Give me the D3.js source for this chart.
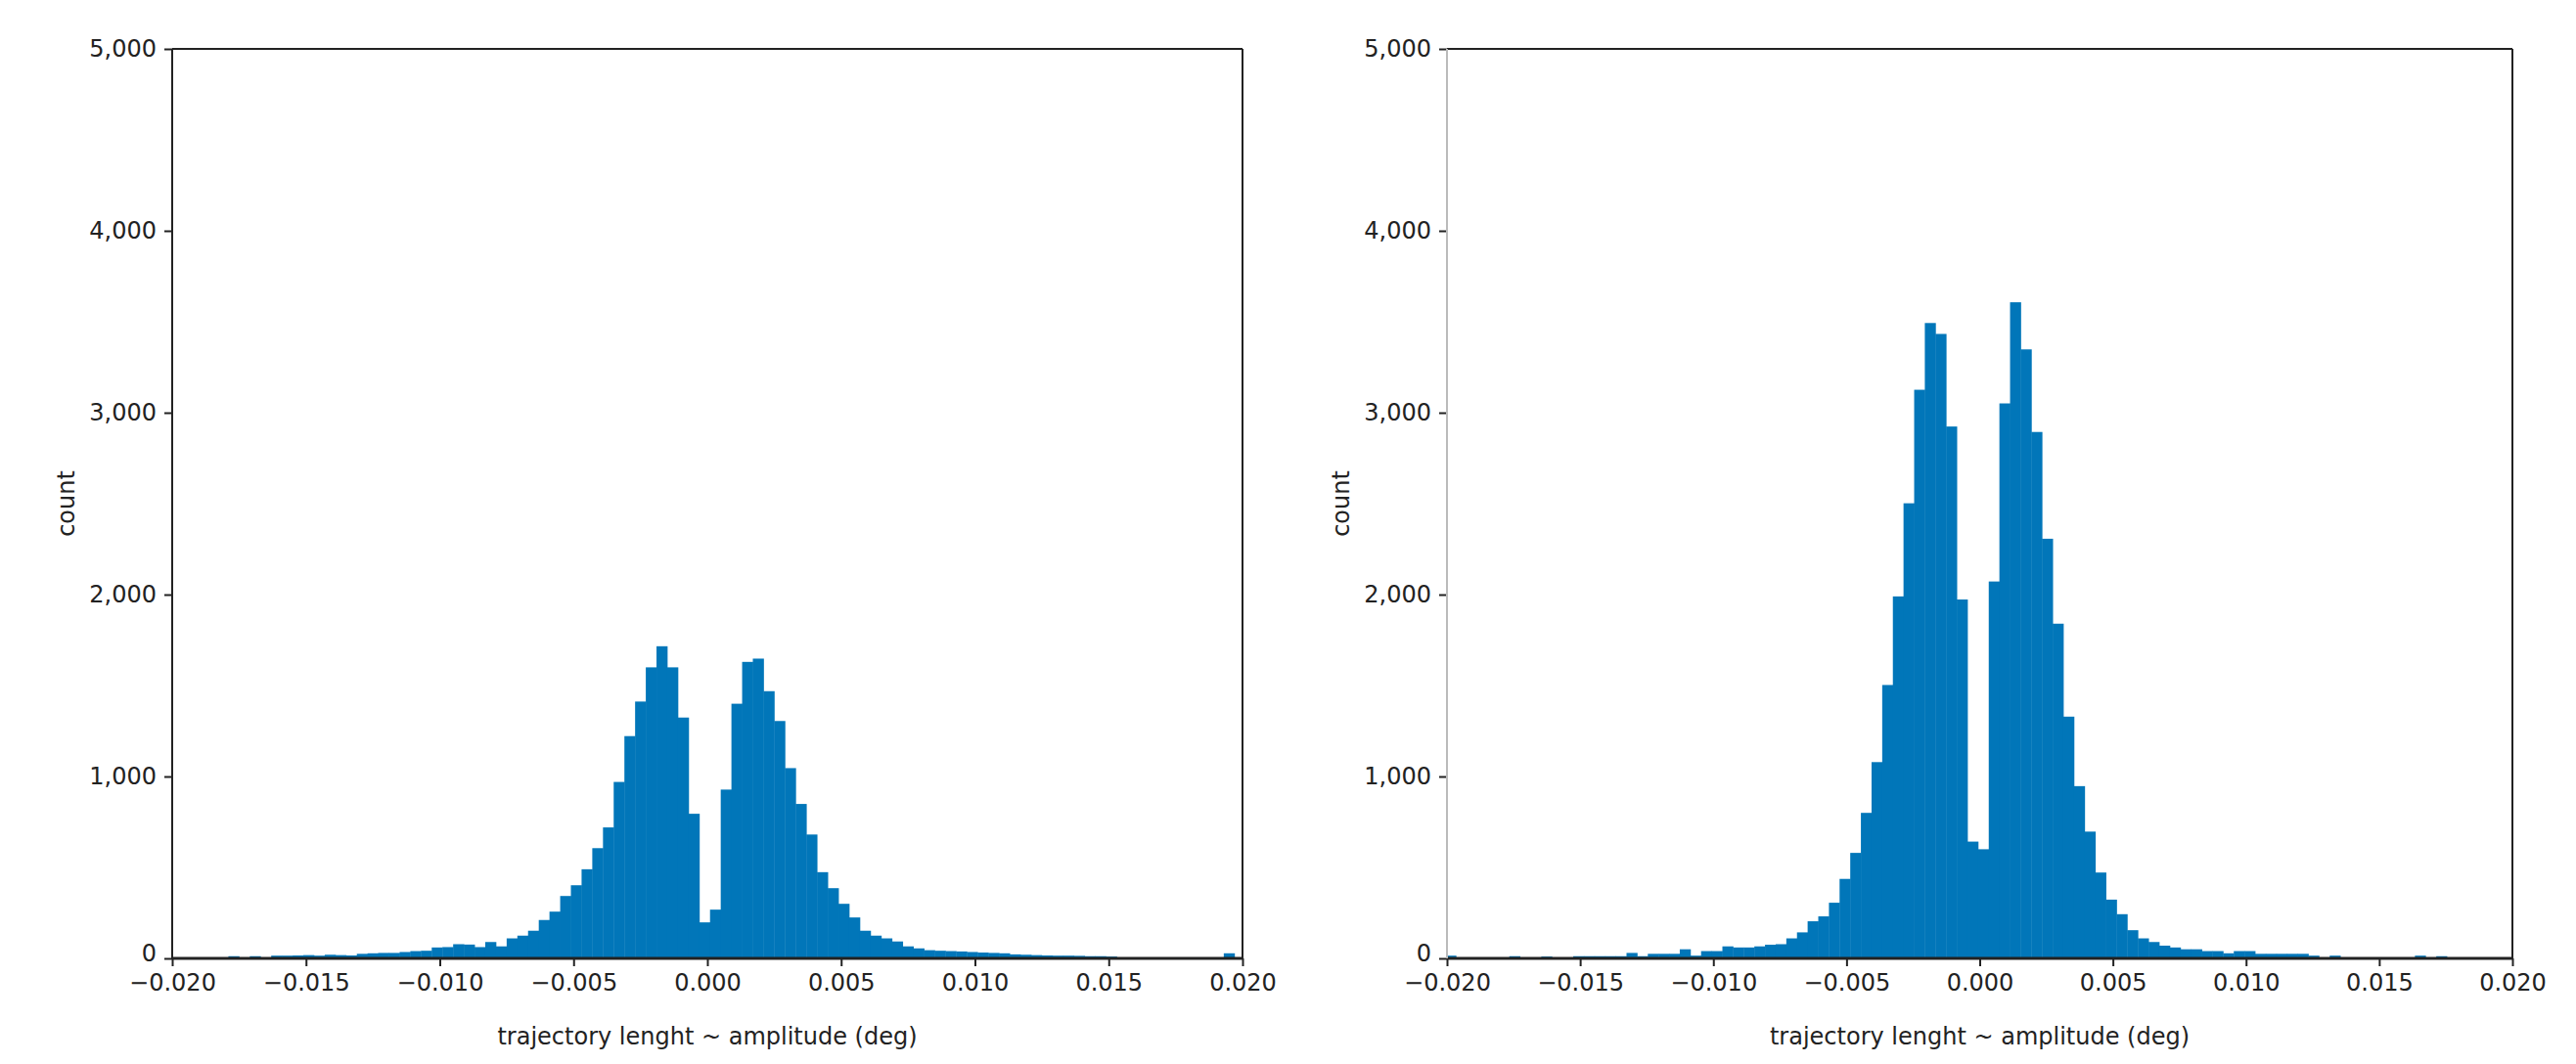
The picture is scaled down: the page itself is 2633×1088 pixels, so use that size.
<!DOCTYPE html>
<html>
<head>
<meta charset="utf-8">
<script src="https://cdn.jsdelivr.net/npm/d3@7"></script>
<style>
  body { margin: 0; background: #fff; }
  text { font-family: "DejaVu Sans", sans-serif; fill: #222; }
</style>
</head>
<body>
<svg id="chart" width="2633" height="1088"></svg>
<script>
// bin width shared by both histograms
const binWidth = 0.0004;

// left panel: first bin edge + counts per bin
const leftStart = -0.0199;
const leftCounts = [
  0, 0, 0, 0, 0, 12, 5, 12, 5, 15,
  15, 16, 18, 15, 20, 18, 16, 25, 28, 30,
  30, 35, 40, 42, 60, 62, 78, 76, 62, 90,
  66, 110, 125, 152, 211, 257, 343, 402, 490, 606,
  720, 970, 1222, 1412, 1600, 1716, 1600, 1324, 795, 198,
  268, 928, 1400, 1630, 1648, 1469, 1305, 1046, 849, 681,
  474, 386, 300, 225, 152, 125, 110, 93, 66, 55,
  45, 42, 40, 38, 35, 32, 30, 28, 22, 20,
  18, 16, 15, 15, 14, 12, 12, 10, 0, 0,
  0, 0, 0, 0, 0, 0, 0, 0, 28, 0
];

// right panel
const rightStart = -0.02006;
const rightCounts = [
  15, 0, 0, 0, 0, 0, 12, 0, 0, 10,
  0, 0, 12, 12, 12, 12, 12, 30, 12, 25,
  25, 25, 50, 15, 40, 40, 66, 60, 60, 66,
  75, 78, 110, 143, 204, 231, 306, 437, 580, 800,
  1079, 1503, 1990, 2502, 3126, 3493, 3433, 2924, 1973, 642,
  600, 2072, 3051, 3607, 3348, 2894, 2307, 1840, 1329, 947,
  697, 472, 323, 243, 155, 110, 90, 70, 60, 50,
  50, 40, 40, 28, 40, 40, 25, 25, 25, 25,
  25, 15, 0, 15, 0, 0, 0, 0, 0, 0,
  0, 15, 0, 12, 0, 0, 0, 0, 0, 0
];

const xTicks = [-0.020, -0.015, -0.010, -0.005, 0.000, 0.005, 0.010, 0.015, 0.020];
const yTicks = [0, 1000, 2000, 3000, 4000, 5000];
const xLabel = "trajectory lenght ~ amplitude (deg)";
const yLabel = "count";

const svg = d3.select("#chart");
const barColor = "#0176b9";
const fmtX = v => (v < 0 ? "\u2212" : "") + d3.format(".3f")(Math.abs(v));

function panel(x0, x1, start, counts, leftSpineColor){
  const top = 50, bottom = 980;
  const x = d3.scaleLinear().domain([-0.02, 0.02]).range([x0, x1]);
  const y = d3.scaleLinear().domain([0, 5000]).range([bottom, top]);
  const g = svg.append("g");

  const bins = counts.map((c, i) => ({ a: start + i * binWidth, b: start + (i + 1) * binWidth, c }));
  g.append("g").selectAll("rect")
    .data(bins.filter(d => d.c > 0 && d.b > -0.02 && d.a < 0.02))
    .join("rect")
    .attr("x", d => x(Math.max(d.a, -0.02)))
    .attr("width", d => x(Math.min(d.b, 0.02)) - x(Math.max(d.a, -0.02)) + 0.4)
    .attr("y", d => y(d.c))
    .attr("height", d => y(0) - y(d.c))
    .attr("fill", barColor);

  const xa = g.append("g").attr("transform", `translate(0,${bottom})`)
    .call(d3.axisBottom(x).tickValues(xTicks).tickFormat(fmtX).tickSize(8).tickPadding(8));
  const ya = g.append("g").attr("transform", `translate(${x0},0)`)
    .call(d3.axisLeft(y).tickValues(yTicks).tickFormat(d3.format(",")).tickSize(8).tickPadding(8));
  [xa, ya].forEach(a => {
    a.select(".domain").remove();
    a.selectAll("line").attr("stroke", "#222").attr("stroke-width", 2);
    a.selectAll("text").style("font-size", "24px").attr("fill", "#222");
  });
  // lift the "0" label so it clears the first x tick label
  ya.selectAll(".tick").filter(d => d === 0).select("text").attr("dy", "0.1em");

  // frame
  g.append("line").attr("x1", x0).attr("x2", x1).attr("y1", top).attr("y2", top).attr("stroke", "#222").attr("stroke-width", 2);
  g.append("line").attr("x1", x0).attr("x2", x1).attr("y1", bottom).attr("y2", bottom).attr("stroke", "#222").attr("stroke-width", 3);
  g.append("line").attr("x1", x1).attr("x2", x1).attr("y1", top).attr("y2", bottom).attr("stroke", "#222").attr("stroke-width", 2);
  g.append("line").attr("x1", x0).attr("x2", x0).attr("y1", top).attr("y2", bottom).attr("stroke", leftSpineColor).attr("stroke-width", 2);

  g.append("text").attr("x", (x0 + x1) / 2).attr("y", 1068)
    .attr("text-anchor", "middle").style("font-size", "24px").text(xLabel);
  g.append("text").attr("transform", `translate(${x0 - 100},${(top + bottom) / 2}) rotate(-90)`)
    .attr("text-anchor", "middle").style("font-size", "24px").text(yLabel);
}

panel(176, 1270, leftStart, leftCounts, "#222");
panel(1479, 2568, rightStart, rightCounts, "#bbb");
</script>
</body>
</html>
